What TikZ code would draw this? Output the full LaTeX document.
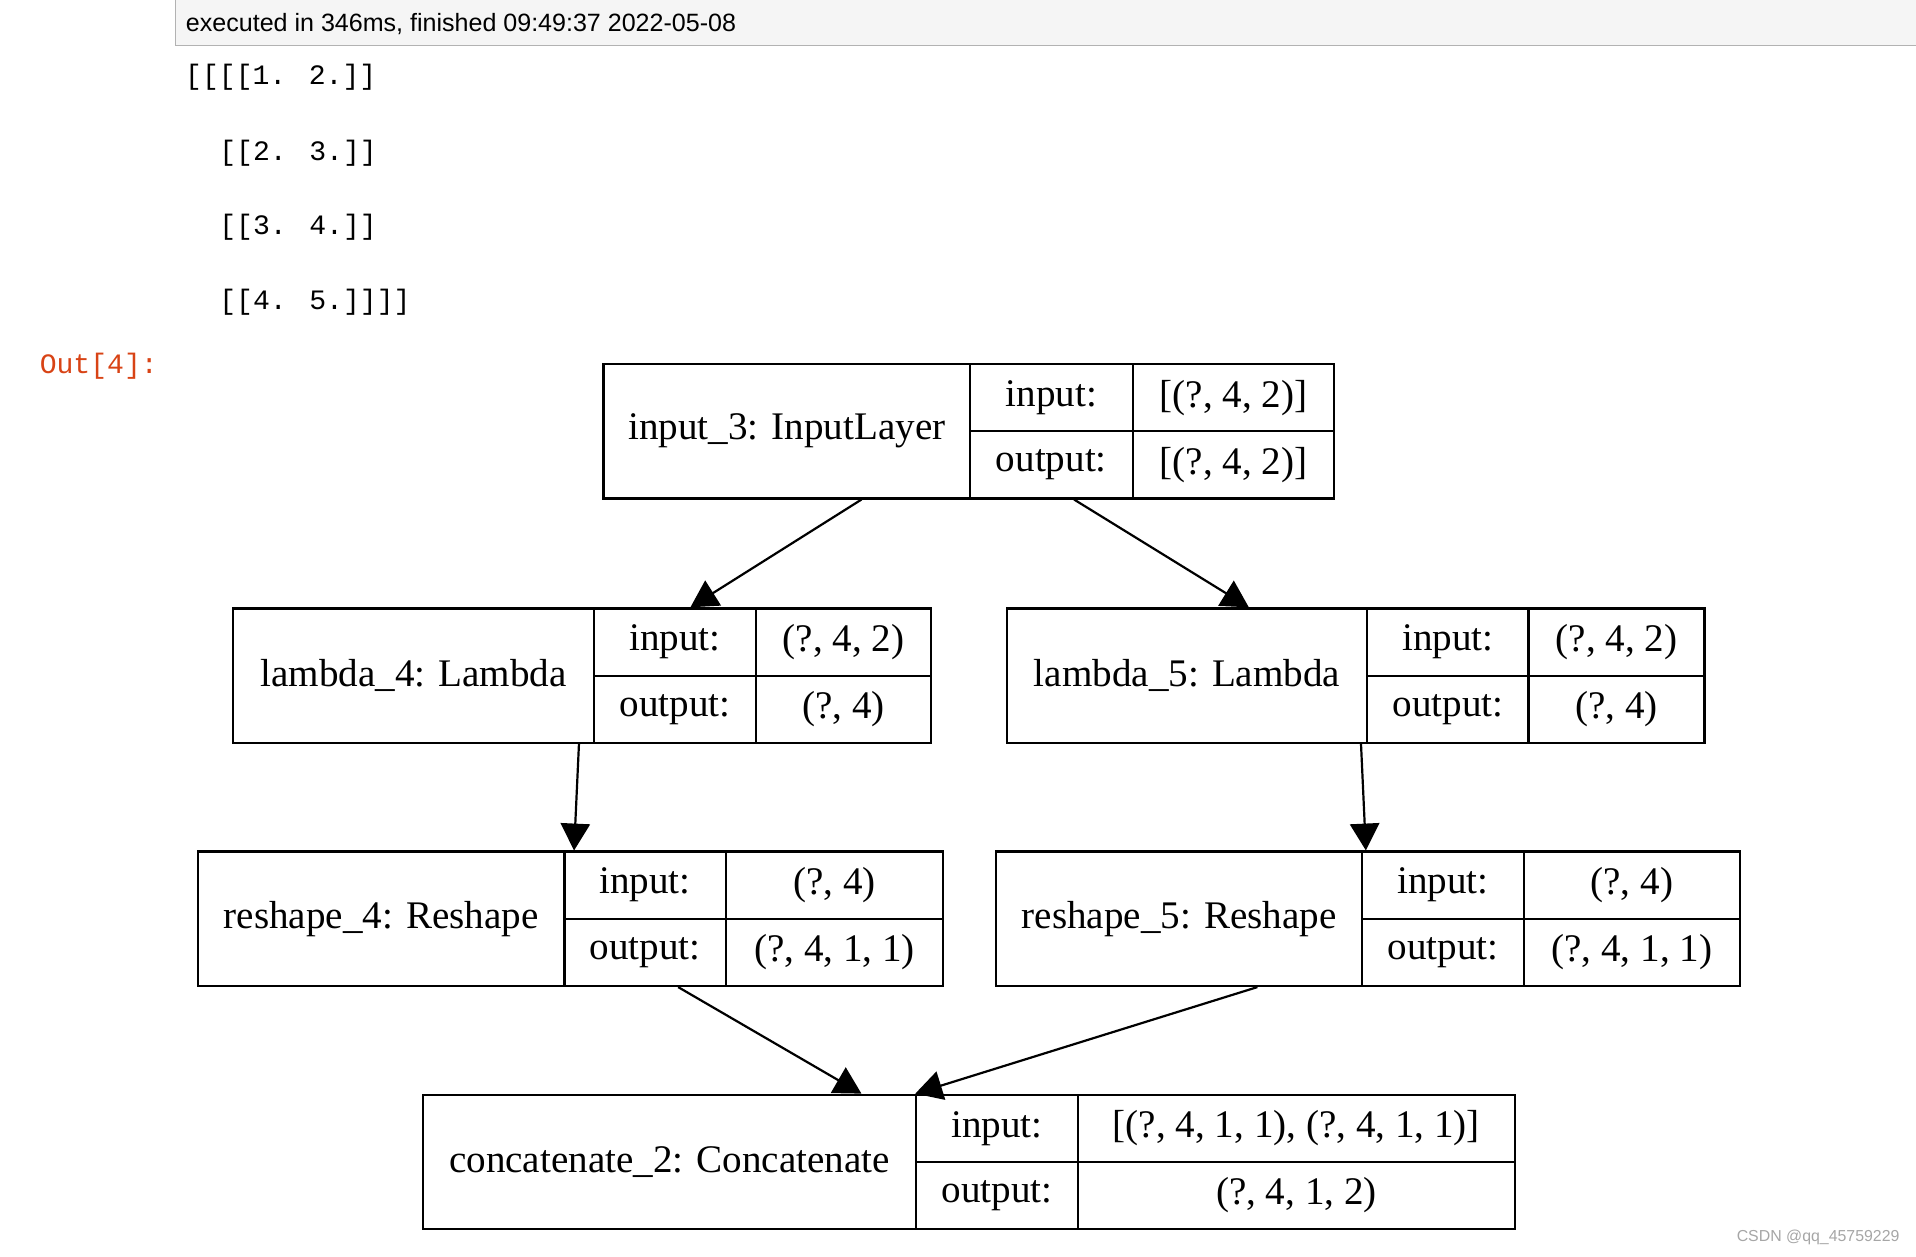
\documentclass[tikz,border=0pt]{standalone}
\usepackage{fontspec}
\setmainfont{Liberation Serif}
\newfontfamily\monof{Liberation Mono}
\newfontfamily\sansf{Liberation Sans}
\usetikzlibrary{arrows.meta,calc}
\definecolor{outred}{HTML}{D84315}
\tikzset{
 cell/.style={draw,line width=1.8pt,inner sep=0pt,font=\fontsize{32}{36}\selectfont},
 arr/.style={line width=1.8pt,-{Triangle[length=22pt,width=24pt]}},
 code/.style={anchor=west,font=\monof\fontsize{23}{27}\selectfont},
}
% #1 name, #2 left, #3 div1, #4 div2, #5 right, #6 top, #7 label, #8 in, #9 out
\newcommand\myrecord[9]{%
 \node[cell,minimum width={#3-#2},minimum height=110,anchor=north west] (#1m) at (#2,#6) {#7};
 \node[cell,minimum width={#4-#3},minimum height=55,anchor=north west] (#1i) at (#3,#6) {input:};
 \node[cell,minimum width={#5-#4},minimum height=55,anchor=north west] (#1iv) at (#4,#6) {#8};
 \node[cell,minimum width={#4-#3},minimum height=55,anchor=north west] (#1o) at (#3,#6+55) {output:};
 \node[cell,minimum width={#5-#4},minimum height=55,anchor=north west] (#1ov) at (#4,#6+55) {#9};
}
\begin{document}
\begin{tikzpicture}[x=1pt,y=-1pt]
\useasboundingbox (0,0) rectangle (1568,1028);
\node[draw=gray!60,fill=gray!8,line width=1pt,minimum width=1440,minimum height=38,anchor=north west,inner sep=0pt] (bar) at (143,-1) {};
\node[anchor=west,font=\sansf\fontsize{20.5}{24}\selectfont,inner sep=0pt] (exec) at (152,20) {executed in 346ms, finished 09:49:37 2022-05-08};
\node[code] (l1) at (148,63) {[[[[1. 2.]]};
\node[code] (l2) at (176,125) {[[2. 3.]]};
\node[code] (l3) at (176,186) {[[3. 4.]]};
\node[code] (l4) at (176,247) {[[4. 5.]]]]};
\node[code,text=outred] (out) at (29,300) {Out[4]:};
\myrecord{a}{493}{793}{926}{1091}{297}{input\_3: InputLayer}{[(?, 4, 2)]}{[(?, 4, 2)]}
\myrecord{b}{190}{485}{618}{761}{497}{lambda\_4: Lambda}{(?, 4, 2)}{(?, 4)}
\myrecord{c}{823}{1118}{1250}{1394}{497}{lambda\_5: Lambda}{(?, 4, 2)}{(?, 4)}
\myrecord{d}{161}{461}{593}{771}{696}{reshape\_4: Reshape}{(?, 4)}{(?, 4, 1, 1)}
\myrecord{e}{814}{1114}{1246}{1423}{696}{reshape\_5: Reshape}{(?, 4)}{(?, 4, 1, 1)}
\myrecord{f}{345}{749}{881}{1239}{895}{concatenate\_2: Concatenate}{[(?, 4, 1, 1), (?, 4, 1, 1)]}{(?, 4, 1, 2)}
\draw[arr] ($(am.south west)+(212,0)$) -- ($(bm.north west)+(375,0)$);
\draw[arr] ($(ao.south west)+(86,0)$) -- ($(cm.north west)+(199,0)$);
\draw[arr] ($(bm.south east)+(-13,0)$) -- ($(dm.north east)+(7,0)$);
\draw[arr] ($(cm.south east)+(-6,0)$) -- ($(em.north east)+(2,0)$);
\draw[arr] ($(dm.south west)+(394,0)$) -- ($(fm.north west)+(360,0)$);
\draw[arr] ($(em.south west)+(215,0)$) -- (fi.north west);
\node[anchor=east,text=gray!70,font=\sansf\fontsize{13}{15}\selectfont] (wm) at (1558,1013) {CSDN @qq\_45759229};
\end{tikzpicture}
\end{document}
